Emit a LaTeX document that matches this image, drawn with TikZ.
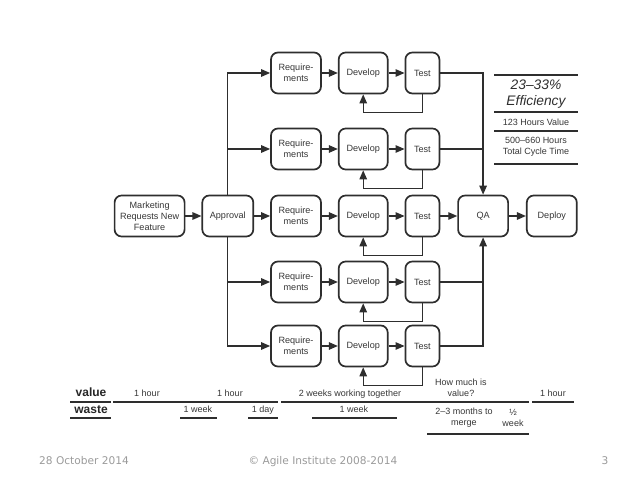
\documentclass[tikz,border=0pt]{standalone}
\usepackage{fontspec}
\setmainfont{Liberation Sans}
\newfontfamily\footfont{DejaVu Sans}
\usepackage{xcolor}
\definecolor{ink}{HTML}{2E2E2E}
\definecolor{label}{HTML}{363636}
\definecolor{footgray}{HTML}{9A9A9A}
\usetikzlibrary{arrows.meta,positioning}

\begin{document}
\begin{tikzpicture}[
  x=1pt, y=-1pt,
  node distance=16pt,
  stage/.style={
    rectangle, rounded corners=7pt, draw=ink, fill=white,
    line width=1.7pt, align=center, text=label,
    font=\fontsize{9.1}{11.2}\selectfont,
    minimum height=41pt, inner sep=2pt
  },
  txt/.style={text=label, font=\fontsize{9}{11}\selectfont, align=center, inner sep=0pt},
  cell/.style={txt, anchor=base},
  big/.style={text=ink, font=\itshape\fontsize{13.8}{16}\selectfont, inner sep=0pt},
  head/.style={text=black!85, font=\bfseries\fontsize{12}{14}\selectfont, inner sep=0pt, anchor=base},
  foot/.style={text=footgray, font=\footfont\fontsize{10.6}{12}\selectfont, inner sep=0pt, anchor=base},
  arr/.style={-{Triangle[length=9pt,width=7.5pt]}, ink, line width=1.3pt},
  link/.style={ink, line width=1.3pt},
  rule/.style={ink, line width=1.5pt}
]
\useasboundingbox (0,0) rectangle (638,478);

% Parallel teams
\foreach \i/\y in {1/73, 2/149, 3/216, 4/282, 5/346} {
  \node[stage, minimum width=50pt] (req\i) at (296,\y) {Require-\\ments};
  \node[stage, minimum width=49pt, right=of req\i] (dev\i) {Develop};
  \node[stage, minimum width=34pt, right=of dev\i] (test\i) {Test};
}

% Main line
\node[stage, minimum width=51pt, left=of req3] (appr) {Approval};
\node[stage, minimum width=70pt, left=of appr] (mkt) {Marketing\\Requests New\\Feature};
\node[stage, minimum width=50pt, right=17pt of test3] (qa) {QA};
\node[stage, minimum width=50pt, right=17pt of qa] (deploy) {Deploy};

% Arrows
\foreach \a/\b in {mkt/appr, appr/req3, test3/qa, qa/deploy}
  \draw[arr] (\a) -- (\b);
\foreach \i in {1,...,5} {
  \draw[arr] (req\i) -- (dev\i);
  \draw[arr] (dev\i) -- (test\i);
  \draw[arr] (test\i.south) -- ++(0,18) -| (dev\i.south);
}
\draw[arr] (appr.north) |- (req1);
\draw[arr] (appr.north) |- (req2);
\draw[arr] (appr.south) |- (req4);
\draw[arr] (appr.south) |- (req5);
\draw[arr] (test1) -| (qa);
\draw[link] (test2.east) -- (test2.east -| qa);
\draw[arr] (test4) -| (qa);
\draw[link] (test5) -| (test4.east -| qa);

% Efficiency box
\foreach \y in {75, 112, 131, 164}
  \draw[rule] (494,\y) -- (578,\y);
\node[big] (pct) at (536,85) {23--33\%};
\node[big] (eff) at (536,102) {Efficiency};
\node[txt] (hval) at (536,122) {123 Hours Value};
\node[txt] (hcyc) at (536,147) {500--660 Hours\\Total Cycle Time};

% Value / waste timeline
\foreach \a/\b/\y in {70/111/402, 113/278/402, 281/529/402, 532/574/402,
                      70/111/418, 180/217/418, 248/278/418, 312/397/418, 427/529/434}
  \draw[rule] (\a,\y) -- (\b,\y);
\node[head] (value) at (91,397) {value};
\node[head] (waste) at (91,414) {waste};
\node[cell] (v1) at (147,396.5) {1 hour};
\node[cell] (v2) at (230,396.5) {1 hour};
\node[cell] (v3) at (350,396.5) {2 weeks working together};
\node[txt] (v4) at (461,388) {How much is\\value?};
\node[cell] (v5) at (553,396.5) {1 hour};
\node[cell] (w1) at (198,412.5) {1 week};
\node[cell] (w2) at (263,412.5) {1 day};
\node[cell] (w3) at (354,412.5) {1 week};
\node[txt] (w4) at (464,418) {2--3 months to\\merge};
\node[txt] (w5) at (513,418) {½\\week};

% Footer
\node[foot] (date) at (84,465) {28 October 2014};
\node[foot] (copy) at (323,465) {© Agile Institute 2008-2014};
\node[foot] (page) at (605,465) {3};
\end{tikzpicture}
\end{document}
